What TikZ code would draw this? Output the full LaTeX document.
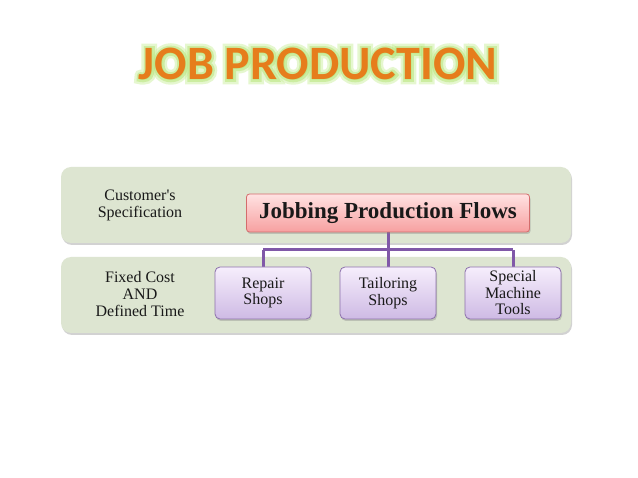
\documentclass[tikz,border=0pt]{standalone}
\usepackage{fontspec}
\setmainfont{Liberation Serif}
\newfontfamily\titlefont{Carlito}
\newfontfamily\titleglowA[FakeBold=20]{Carlito}
\newfontfamily\titleglowB[FakeBold=10]{Carlito}
\usetikzlibrary{shadows}
\pgfdeclarelayer{bg}
\pgfdeclarelayer{mid}
\pgfsetlayers{bg,mid,main}
\definecolor{bandfill}{RGB}{221,229,209}
\definecolor{jobtop}{RGB}{255,226,226}
\definecolor{jobbot}{RGB}{247,160,160}
\definecolor{jobline}{RGB}{212,108,108}
\definecolor{kidtop}{RGB}{246,238,252}
\definecolor{kidbot}{RGB}{206,186,228}
\definecolor{kidline}{RGB}{140,112,172}
\definecolor{conn}{RGB}{128,88,168}
\definecolor{ink}{RGB}{25,25,25}
\definecolor{titleorange}{RGB}{230,125,28}
\definecolor{glow}{RGB}{205,240,160}
\definecolor{glowin}{RGB}{185,230,125}
\tikzset{
  band/.style={rounded corners=10pt, fill=bandfill, minimum width=510pt, minimum height=76pt,
    drop shadow={opacity=0.35, shadow xshift=1pt, shadow yshift=-2pt}},
  jobbox/.style={rounded corners=3pt, draw=jobline, line width=0.8pt, top color=jobtop, bottom color=jobbot,
    minimum width=283pt, minimum height=38pt, font=\fontsize{23}{26}\selectfont\bfseries, text=ink,
    drop shadow={opacity=0.35, shadow xshift=1pt, shadow yshift=-2pt}},
  kidbox/.style={rounded corners=5pt, draw=kidline, line width=0.8pt, top color=kidtop, bottom color=kidbot,
    minimum width=96pt, minimum height=52pt, align=center, font=\fontsize{16}{16.5}\selectfont, text=ink,
    drop shadow={opacity=0.35, shadow xshift=1pt, shadow yshift=-2pt}},
  sidetext/.style={align=center, font=\fontsize{16}{17}\selectfont, text=ink},
  connector/.style={draw=conn, line width=3pt},
  titletext/.style={font=\titlefont\bfseries\fontsize{48}{50}\selectfont, inner sep=0pt}
}
\begin{document}
\begin{tikzpicture}[x=1pt,y=-1pt]
\begin{pgfonlayer}{bg}
\fill[white] (0,0) rectangle (638,478);
\end{pgfonlayer}
\useasboundingbox (0,0) rectangle (638,478);
% title with glow
\node[titletext, font=\titleglowA\bfseries\fontsize{48}{50}\selectfont, text=glow, opacity=0.5] (titleglow) at (318,64) {JOB PRODUCTION};
\node[titletext, font=\titleglowB\bfseries\fontsize{48}{50}\selectfont, text=glowin, opacity=0.55] (titleglow2) at (318,64) {JOB PRODUCTION};
\node[titletext, text=titleorange] (title) at (318,64) {JOB PRODUCTION};
% boxes
\node[jobbox] (job) at (388,213) {Jobbing Production Flows};
\node[kidbox] (k1) at (263,293) {Repair\\Shops};
\node[kidbox] (k2) at (388,293) {Tailoring\\Shops};
\node[kidbox] (k3) at (513,293) {Special\\Machine\\Tools};
% side texts
\node[sidetext] (spec) at (140,205) {Customer\textquotesingle s\\Specification};
\node[sidetext] (cost) at (140,294) {Fixed Cost\\AND\\Defined Time};
% bands
\begin{pgfonlayer}{bg}
\node[band] (band1) at (316,205) {};
\node[band] (band2) at (316,295) {};
\end{pgfonlayer}
% connectors
\coordinate (bus) at (388,250);
\begin{pgfonlayer}{mid}
\draw[connector] (job.south) -- (job.south |- bus);
\draw[connector] (k1.north |- bus) -- (k3.north |- bus);
\draw[connector] (k1.north |- bus) -- (k1.north);
\draw[connector] (k2.north |- bus) -- (k2.north);
\draw[connector] (k3.north |- bus) -- (k3.north);
\end{pgfonlayer}
\end{tikzpicture}
\end{document}
